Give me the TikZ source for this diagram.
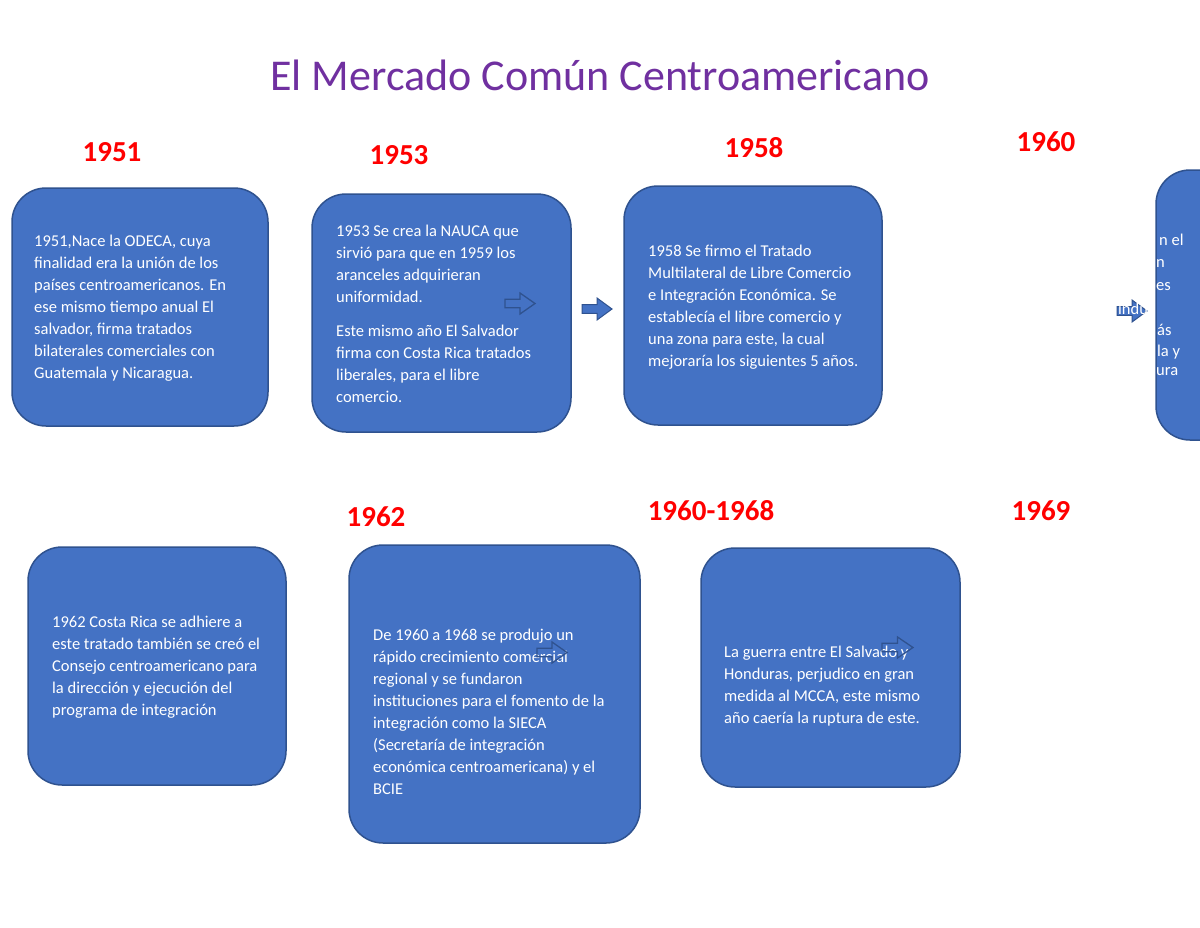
\documentclass[tikz,border=0pt]{standalone}
\usepackage{fontspec}
\setmainfont{Carlito}
\definecolor{boxblue}{HTML}{4472C4}
\definecolor{boxedge}{HTML}{2F528F}
\definecolor{titlepurple}{HTML}{7030A0}
\definecolor{yearred}{HTML}{FF0000}
\newcommand\blockarrow[5]{% x0 y0 w h style
  \draw[#5] (#1,#2+0.3*#4) -- (#1+0.5*#3,#2+0.3*#4) -- (#1+0.5*#3,#2)
    -- (#1+#3,#2+0.5*#4) -- (#1+0.5*#3,#2+#4) -- (#1+0.5*#3,#2+0.7*#4)
    -- (#1,#2+0.7*#4) -- cycle;}
\begin{document}
\begin{tikzpicture}[x=1pt,y=-1pt,
  evbox/.style={draw=boxedge, line width=1.5pt, fill=boxblue, rounded corners=34pt, inner sep=0pt},
  evtext/.style={text=white, font=\fontsize{16.5}{22}\selectfont, align=left, anchor=north west, inner sep=0pt},
  yearlabel/.style={text=yearred, font=\fontsize{29}{34}\selectfont\bfseries, inner sep=0pt, anchor=base},
  solidarrow/.style={fill=boxblue, draw=boxedge, line width=1pt},
  hollowarrow/.style={draw=boxedge, line width=1.3pt, fill=boxblue}]
\useasboundingbox (0,0) rectangle (1200,927);
\clip (0,0) rectangle (1200,927);
\fill[white] (0,0) rectangle (1200,927);

% title
\node[text=titlepurple, font=\fontsize{44}{50}\selectfont, anchor=base, inner sep=0pt] (title) at (600,90) {El Mercado Común Centroamericano};

% years
\node[yearlabel] (y1951) at (112,161) {1951};
\node[yearlabel] (y1953) at (399,164) {1953};
\node[yearlabel] (y1958) at (754,157) {1958};
\node[yearlabel] (y1960) at (1046,151) {1960};
\node[yearlabel] (y1962) at (376,526) {1962};
\node[yearlabel] (y6068) at (711,520) {1960-1968};
\node[yearlabel] (y1969) at (1041,520) {1969};

% boxes
\draw[evbox] (12,188) rectangle (268,426);
\draw[evbox] (312,194) rectangle (571,432);
\draw[evbox] (624,186) rectangle (882,425);
\draw[evbox] (1156,170) rectangle (1290,440);
\draw[evbox] (28,547) rectangle (286,785);
\draw[evbox] (349,545) rectangle (640,843);
\draw[evbox] (701,548) rectangle (960,787);

% arrows
\blockarrow{505}{293}{30}{21}{hollowarrow}
\blockarrow{582}{298}{30}{22}{solidarrow}
\blockarrow{1117}{300}{30}{22}{solidarrow}

% texts
\node[evtext] (t1951) at (34,235) {1951,Nace la ODECA, cuya\\
finalidad era la unión de los\\
países centroamericanos. En\\
ese mismo tiempo anual El\\
salvador, firma tratados\\
bilaterales comerciales con\\
Guatemala y Nicaragua.};

\node[evtext] (t1953) at (336,225) {1953 Se crea la NAUCA que\\
sirvió para que en 1959 los\\
aranceles adquirieran\\
uniformidad.\\[12pt]
Este mismo año El Salvador\\
firma con Costa Rica tratados\\
liberales, para el libre\\
comercio.};

\node[evtext] (t1958) at (648,245) {1958 Se firmo el Tratado\\
Multilateral de Libre Comercio\\
e Integración Económica. Se\\
establecía el libre comercio y\\
una zona para este, la cual\\
mejoraría los siguientes 5 años.};

\node[evtext] (t1962) at (52,616) {1962 Costa Rica se adhiere a\\
este tratado también se creó el\\
Consejo centroamericano para\\
la dirección y ejecución del\\
programa de integración};

\node[evtext] (t6068) at (373,629) {De 1960 a 1968 se produjo un\\
rápido crecimiento comercial\\
regional y se fundaron\\
instituciones para el fomento de la\\
integración como la SIECA\\
(Secretaría de integración\\
económica centroamericana) y el\\
BCIE};

\node[evtext] (t1969) at (724,646) {La guerra entre El Salvado y\\
Honduras, perjudico en gran\\
medida al MCCA, este mismo\\
año caería la ruptura de este.};

% arrows drawn over text
\blockarrow{537}{642}{30}{21}{hollowarrow, fill=none}
\blockarrow{882}{637}{31}{21}{hollowarrow, fill=none}

% partial text of the cut-off 1960 box
\begin{scope}[every node/.style={text=white, font=\fontsize{16.5}{22}\selectfont, anchor=west, inner sep=0pt}]
\node (f1) at (1159,240) {n el};
\node (f2) at (1156,263) {n};
\node (f3) at (1156,287) {es};
\node (f4) at (1118,309) {indu};
\node (f5) at (1157,330) {ás};
\node (f6) at (1157,352) {la y};
\node (f7) at (1156,372) {ura};
\end{scope}
\end{tikzpicture}
\end{document}
